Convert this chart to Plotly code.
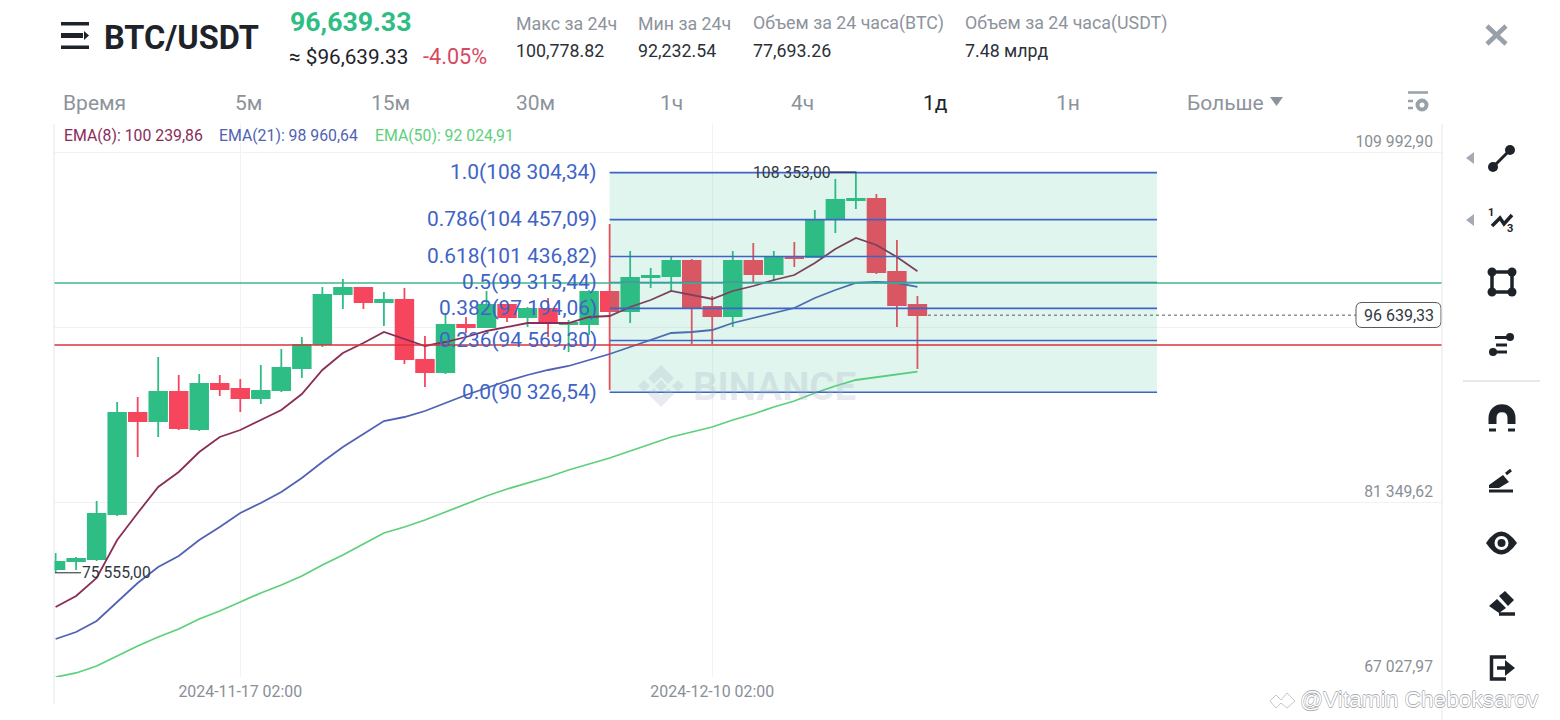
import re
import pandas as pd
import plotly.graph_objects as go

# ---------- data ----------
dates = [
 "2024-11-08","2024-11-09","2024-11-10","2024-11-11","2024-11-12","2024-11-13","2024-11-14","2024-11-15","2024-11-16",
 "2024-11-17","2024-11-18","2024-11-19","2024-11-20","2024-11-21","2024-11-22","2024-11-23","2024-11-24","2024-11-25",
 "2024-11-26","2024-11-27","2024-11-28","2024-11-29","2024-11-30","2024-12-01","2024-12-02","2024-12-03","2024-12-04",
 "2024-12-05","2024-12-06","2024-12-07","2024-12-08","2024-12-09","2024-12-10","2024-12-11","2024-12-12","2024-12-13",
 "2024-12-14","2024-12-15","2024-12-16","2024-12-17","2024-12-18","2024-12-19","2024-12-20"]
opens = [75866,76521,76685,80367,88633,87978,90352,87323,91006,90597,89861,90516,92316,94280,98372,98863,97717,97881,
 92971,91989,95835,95671,97472,96490,97144,95917,95917,98536,96981,99763,99845,101073,97308,96572,101073,100009,101400,
 101400,104510,106065,106147,100173,97472]
highs = [77175,76849,81431,89533,89943,93216,91743,91825,91743,91416,92561,93871,94853,98945,99600,98900,98536,98863,
 94935,96817,96490,98618,97554,97308,98045,96244,98700,104101,101891,100500,101400,101237,98208,101891,102546,101891,
 102628,105247,107784,108353,106556,102791,98208]
lows = [75555,75784,76521,80203,85032,86669,87241,87160,90024,88715,89370,90352,91497,94035,97144,97144,95753,92643,
 90761,91825,95180,95589,96081,95671,94853,93625,95017,90516,95999,98863,98618,94280,94280,95671,99354,99436,
 100582,101318,103364,105328,100009,95671,92234]
closes = [76439,76685,80367,88633,87978,90352,87405,91006,90597,89861,90434,92316,94198,98290,98863,97717,97881,93052,
 91989,95835,95671,97472,96490,97144,95999,95999,98536,96981,99681,99845,101073,97308,96572,101073,100009,101400,101318,
 104428,106065,106147,100173,97472,96639.33]
ema8 = [72756,73656,75129,78239,80449,82577,83805,85441,86669,87242,88060,88879,90188,92152,93543,94362,95262,94689,
 94116,94444,94853,95344,95671,95999,95999,95999,96490,96572,97308,97881,98618,98290,97963,98618,99027,99518,99927,
 100909,102055,102955,102382,101400,100239.86]
ema21 = [70137,70710,71610,73165,74720,76030,76930,78239,79303,80449,81267,82168,83313,84623,85851,86914,87978,88306,
 88797,89451,90106,90679,91252,91743,92152,92480,92971,93462,94035,94607,95180,95262,95426,95999,96408,96817,97226,
 98045,98699,99272,99354,99272,98960.64]
ema50 = [67027,67355,67928,68746,69564,70301,70956,71774,72429,73165,73902,74557,75293,76193,77012,77912,78812,79303,
 79876,80531,81186,81840,82413,82904,83395,83968,84459,84950,85523,86096,86669,87078,87487,88060,88551,89124,89615,
 90270,90843,91334,91579,91825,92024.91]
fib_levels = [108304.34,104457.09,101436.82,99315.44,97194.06,94569.30,90326.54]
fib_labels = ["1.0(108 304,34)","0.786(104 457,09)","0.618(101 436,82)","0.5(99 315,44)","0.382(97 194,06)","0.236(94 569,30)","0.0(90 326,54)"]
y_ticks = [109992.90,95671.26,81349.62,67027.97]
y_tick_labels = ["109 992,90","","81 349,62","67 027,97"]
x_ticks = ["2024-11-17 02:00","2024-12-10 02:00"]
green_level = 99273
red_level = 94198
last_price = 96639.33
last_label = "96 639,33"
high_label = "108 353,00"
high_value = 108353
low_label = "75 555,00"
low_value = 75555

# ---------- geometry ----------
W, H = 1560, 720
L, R, T, B = 54, 1442, 124, 677
GREEN, RED = "#2ebd85", "#f6465d"
DARK = "#1e2329"
GRAY = "#8d939b"
BLUE = "#4063c6"
FONT = "Roboto"

def px(x):
    return (x - L) / (R - L)
def py(y):
    return (B - y) / (B - T)

def path(s):
    out, i = [], 0
    for tok in re.findall(r"[A-Za-z]|-?\d+\.?\d*", s):
        if tok.isalpha():
            out.append(tok); i = 0
        else:
            v = float(tok)
            out.append(f"{px(v):.5f}" if i % 2 == 0 else f"{py(v):.5f}")
            i += 1
    return " ".join(out)

shapes, anns = [], []
def stroke(s, color=DARK, w=3, layer="above"):
    shapes.append(dict(type="path", xref="paper", yref="paper", path=path(s), layer=layer,
                       line=dict(color=color, width=w)))
def fill(s, color=DARK, layer="above", line=None):
    shapes.append(dict(type="path", xref="paper", yref="paper", path=path(s), layer=layer, fillcolor=color,
                       line=line or dict(width=0)))
def circle(cx, cy, r, color=DARK):
    shapes.append(dict(type="circle", xref="paper", yref="paper", x0=px(cx-r), x1=px(cx+r), y0=py(cy+r), y1=py(cy-r),
                       fillcolor=color, line=dict(width=0)))
def text(x, y, s, size=17, color=DARK, anchor="left", bold=False, family=FONT, **font):
    if anchor == "left":
        x -= 2
    anns.append(dict(xref="paper", yref="paper", x=px(x), y=py(y), text=f"<b>{s}</b>" if bold else s, showarrow=False,
                     xanchor=anchor, yanchor="middle", font=dict(size=size, color=color, family=family, **font)))

t0 = pd.Timestamp("2024-11-08 02:00")
day = pd.Timedelta(days=1)
x_time = [pd.Timestamp(d + " 02:00") for d in dates]
X0 = 55.6
x_range = [t0 + day * ((L - X0) / 20.52), t0 + day * ((R - X0) / 20.52)]
y_step = (y_ticks[0] - y_ticks[2]) / 350
y_range = [y_ticks[3], y_ticks[0] + (152 - T) * y_step]

# ---------- figure ----------
fig = go.Figure()
fig.add_trace(go.Candlestick(x=x_time, open=opens, high=highs, low=lows, close=closes, whiskerwidth=0,
    increasing=dict(line=dict(color=GREEN, width=1.8), fillcolor=GREEN),
    decreasing=dict(line=dict(color=RED, width=1.8), fillcolor=RED), showlegend=False))
for vals, c in [(ema50, "#5ed07c"), (ema21, "#5062b4"), (ema8, "#8a2c58")]:
    fig.add_trace(go.Scatter(x=x_time, y=vals, mode="lines", line=dict(color=c, width=1.8), showlegend=False))

# fib drawing
fib_x0 = pd.Timestamp("2024-12-05 02:00")
fib_x1 = fib_x0 + day * ((1157 - 609.6) / 20.52)
shapes.append(dict(type="rect", xref="x", yref="y", x0=fib_x0, x1=fib_x1, y0=fib_levels[-1], y1=fib_levels[0],
                   fillcolor="rgba(46,189,133,0.15)", line=dict(width=0), layer="above"))
for lv, lab in zip(fib_levels, fib_labels):
    shapes.append(dict(type="line", xref="x", yref="y", x0=fib_x0, x1=fib_x1, y0=lv, y1=lv, line=dict(color=BLUE, width=1.6)))
    anns.append(dict(xref="x", yref="y", x=fib_x0, y=lv, text=lab, showarrow=False, xanchor="right", yanchor="middle",
                     xshift=-10.5, yshift=0.5, font=dict(size=20.9, color=BLUE, family=FONT)))
# horizontal levels
shapes.append(dict(type="line", xref="paper", yref="y", x0=0, x1=1, y0=green_level, y1=green_level, line=dict(color="#3fb68b", width=1.6)))
shapes.append(dict(type="line", xref="paper", yref="y", x0=0, x1=1, y0=red_level, y1=red_level, line=dict(color="#d7343c", width=1.6)))
# last price
shapes.append(dict(type="line", xref="paper", yref="y", x0=px(928), x1=px(1356), y0=last_price, y1=last_price,
                   line=dict(color="#555b63", width=1, dash="3px,3px")))
fill("M 1362 302.5 L 1435 302.5 Q 1441 302.5 1441 308.5 L 1441 321.5 Q 1441 327.5 1435 327.5 L 1362 327.5 Q 1356 327.5 1356 321.5 L 1356 308.5 Q 1356 302.5 1362 302.5 Z",
     color="#ffffff", line=dict(color="#555b63", width=1))
text(1398.5, 315.5, last_label, size=16, color="#33383f", anchor="center")
# high / low markers
shapes.append(dict(type="line", xref="paper", yref="y", x0=px(830), x1=px(856.5), y0=high_value, y1=high_value, line=dict(color=DARK, width=1)))
anns.append(dict(xref="paper", yref="y", x=px(791.5), y=high_value, text=high_label, showarrow=False, xanchor="center", yanchor="middle",
                 font=dict(size=15.7, color="#33383f", family=FONT)))
shapes.append(dict(type="line", xref="paper", yref="y", x0=px(55), x1=px(81), y0=low_value, y1=low_value, line=dict(color=DARK, width=1)))
anns.append(dict(xref="paper", yref="y", x=px(116), y=low_value, text=low_label, showarrow=False, xanchor="center", yanchor="middle",
                 font=dict(size=15.7, color="#33383f", family=FONT)))

# frame lines
stroke("M 54 124 L 54 704", "#e4e6e9", 1)
stroke("M 1442 124 L 1442 720", "#e4e6e9", 1)

# binance watermark
WM = "rgba(170,182,200,0.28)"
fill("M 661 365 L 674 378 L 668 384 L 661 377 L 654 384 L 648 378 Z", WM)
fill("M 661 407 L 674 394 L 668 388 L 661 395 L 654 388 L 648 394 Z", WM)
fill("M 644 380 L 650 386 L 644 392 L 638 386 Z", WM)
fill("M 678 380 L 684 386 L 678 392 L 672 386 Z", WM)
fill("M 661 380 L 667 386 L 661 392 L 655 386 Z", WM)
text(774.5, 386, "BINANCE", size=38.5, color=WM, anchor="center", bold=True)

# header
fill("M 61 22 L 89 22 L 89 25.5 L 61 25.5 Z")
fill("M 61 33 L 83 33 L 83 38 L 61 38 Z")
fill("M 84 31 L 89 35.5 L 84 40 Z")
fill("M 61 45.5 L 89 45.5 L 89 49 L 61 49 Z")
text(104, 38, "BTC/USDT", size=32.5, color=DARK, bold=True)
text(290, 22, "96,639.33", size=26.7, color=GREEN, bold=True)
text(289, 57, "≈ $96,639.33", size=20.7, color=DARK)
text(423, 57, "-4.05%", size=21.7, color="#d9485f")
for x, a, b in [(516, "Макс за 24ч", "100,778.82"), (638, "Мин за 24ч", "92,232.54"),
                (753, "Объем за 24 часа(BTC)", "77,693.26"), (965, "Объем за 24 часа(USDT)", "7.48 млрд")]:
    text(x, 23, a, size=17.8, color=GRAY)
    text(x, 50, b, size=17.8, color="#2b3038")
for x, s, c in [(63, "Время", GRAY), (235, "5м", GRAY), (371, "15м", GRAY), (516, "30м", GRAY), (660, "1ч", GRAY),
                (791, "4ч", GRAY), (923, "1д", DARK), (1056, "1н", GRAY), (1187, "Больше", GRAY)]:
    text(x, 103, s, size=21, color=c)
fill("M 1270 97 L 1283 97 L 1276.5 106 Z", "#8d939b")
for x, s, c in [(64, "EMA(8): 100 239,86", "#8a2c58"), (219, "EMA(21): 98 960,64", "#5062b4"), (375, "EMA(50): 92 024,91", "#5ed07c")]:
    text(x, 135, s, size=15.8, color=c)

# close + settings icons
ICON = "#98a0a9"
stroke("M 1487 26 L 1506 44", ICON, 4.5)
stroke("M 1506 26 L 1487 44", ICON, 4.5)
stroke("M 1408 92.5 L 1428 92.5", ICON, 2.5)
stroke("M 1408 101 L 1413 101", ICON, 2.5)
stroke("M 1408 108 L 1413 108", ICON, 2.5)
circle(1422, 105, 6.5, ICON)
circle(1422, 105, 2.5, "#ffffff")

# toolbar
fill("M 1474 152 L 1474 164 L 1466 158 Z", "#a4abb3")
fill("M 1474 214 L 1474 226 L 1466 220 Z", "#a4abb3")
circle(1493, 167, 5); circle(1510, 150, 5)
stroke("M 1493 167 L 1510 150", DARK, 3)
text(1491, 212, "1", size=11, bold=True, anchor="center")
text(1510, 228, "3", size=11, bold=True, anchor="center")
stroke("M 1492 226 L 1500 218 L 1504 224 L 1512 215", DARK, 3.5)
stroke("M 1492 272 L 1512 272 L 1512 292 L 1492 292 Z", DARK, 3.5)
for cx, cy in [(1492, 272), (1512, 272), (1492, 292), (1512, 292)]:
    circle(cx, cy, 4.5)
circle(1510, 337, 4); circle(1493, 352, 4)
stroke("M 1495 337.5 L 1508 337.5", DARK, 3)
stroke("M 1496 345 L 1507 345", DARK, 3)
stroke("M 1495 352 L 1507 352", DARK, 3)
stroke("M 1463 381 L 1540 381", "#e6e8ea", 2)
stroke("M 1492.5 424 L 1492.5 418 C 1492.5 405 1511.5 405 1511.5 418 L 1511.5 424", DARK, 8)
stroke("M 1489 430 L 1496 430", DARK, 3); stroke("M 1508 430 L 1515 430", DARK, 3)
fill("M 1489 488 L 1489 485 L 1503 475 L 1509 482 L 1499 488 Z")
stroke("M 1489 491 L 1513 491", DARK, 3)
stroke("M 1506 474 L 1511 470", DARK, 3)
fill("M 1486 543 Q 1501 520 1517 543 Q 1501 566 1486 543 Z")
circle(1501.5, 543, 7, "#ffffff"); circle(1501.5, 543, 4)
fill("M 1489 606 L 1497 599 L 1506 608 L 1499 613 Z")
fill("M 1499 596 L 1505 591 L 1514 600 L 1508 606 Z")
stroke("M 1499 614 L 1515 614", DARK, 3.5)
stroke("M 1506 657 L 1491.5 657 L 1491.5 679 L 1506 679", DARK, 3.5)
stroke("M 1497 668 L 1507 668", DARK, 3.5)
fill("M 1505 660 L 1515 668 L 1505 676 Z")

# photographer watermark
stroke("M 1270 701 L 1276 695 L 1281 700 L 1287 693 L 1295 701 L 1287 708 L 1281 703 L 1276 708 Z", "#c4c7cb", 1)
text(1300, 699, "@Vitamin Cheboksarov", size=22.7, color="#ffffff", family="Liberation Sans",
     shadow="-0.6px 0 #a9adb2, 0.6px 0 #a9adb2, 0 0.6px #a9adb2, 0 -0.6px #a9adb2")

fig.update_layout(
    width=W, height=H, autosize=False, margin=dict(l=L, r=W-R, t=T, b=H-B, pad=0),
    paper_bgcolor="#ffffff", plot_bgcolor="#ffffff", showlegend=False, boxgap=0.14, boxgroupgap=0,
    shapes=shapes, annotations=anns, hovermode=False,
    font=dict(family=FONT),
    xaxis=dict(type="date", range=x_range, rangeslider=dict(visible=False), tickmode="array", tickvals=x_ticks,
               ticktext=x_ticks, showgrid=True, gridcolor="#f1f2f4", gridwidth=1, zeroline=False, showline=False,
               ticks="", ticklabelstandoff=3, tickfont=dict(size=15.9, color="#8a8f96", family=FONT)),
    yaxis=dict(range=y_range, tickmode="array", tickvals=y_ticks, ticktext=y_tick_labels, side="right",
               ticklabelposition="inside", ticklabelshift=-11, ticklabelstandoff=6, showgrid=True, gridcolor="#f1f2f4",
               gridwidth=1, zeroline=False, showline=False, ticks="", tickfont=dict(size=15.7, color="#8a8f96", family=FONT)),
)
fig.write_html("out.html", config=dict(displayModeBar=False),
               post_script="document.body.style.margin='0';document.body.style.overflow='hidden';")
